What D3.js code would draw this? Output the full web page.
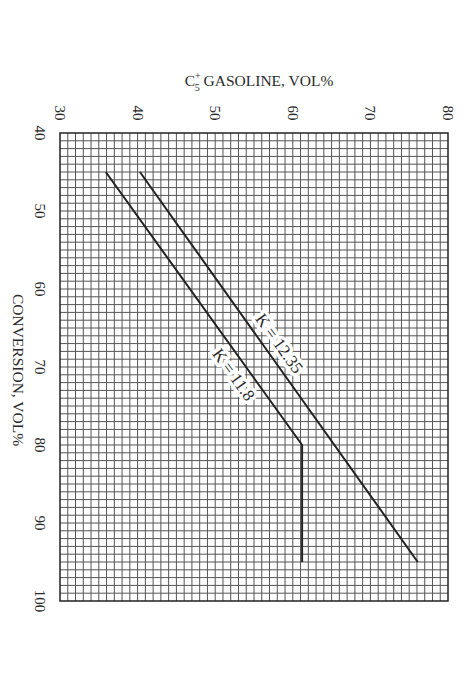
<!DOCTYPE html>
<html><head><meta charset="utf-8">
<script src="https://cdn.jsdelivr.net/npm/d3@7"></script>
<style>
html,body{margin:0;padding:0;background:#fff;}
text{font-family:"Liberation Serif","DejaVu Serif",serif;fill:#2a2a2a;}
</style></head>
<body>
<svg id="c" width="474" height="674"></svg>
<script>
// Data
const gasolineTicks = [30, 40, 50, 60, 70, 80];
const conversionTicks = [40, 50, 60, 70, 80, 90, 100];
const conversionK118 = [45, 80, 95];
const gasolineK118 = [35.9, 61.2, 61.2];
const conversionK1235 = [45, 95];
const gasolineK1235 = [40.3, 76.1];
const seriesLabels = ["K = 11.8", "K = 12.35"];

(function () {
const svg = d3.select("#c");
const pL = 60, pR = 448, pT = 133, pB = 601;
const x = d3.scaleLinear().domain([30, 80]).range([pL, pR]);
const y = d3.scaleLinear().domain([40, 100]).range([pT, pB]);

// grid
const g = svg.append("g");
g.selectAll("line.v").data(d3.range(31, 80)).join("line")
  .attr("x1", d => x(d)).attr("x2", d => x(d)).attr("y1", pT).attr("y2", pB)
  .attr("stroke", "#555").attr("stroke-width", 1);
g.selectAll("line.h").data(d3.range(41, 100)).join("line")
  .attr("y1", d => y(d)).attr("y2", d => y(d)).attr("x1", pL).attr("x2", pR)
  .attr("stroke", "#555").attr("stroke-width", 1);
svg.append("rect").attr("x", pL).attr("y", pT).attr("width", pR - pL).attr("height", pB - pT)
  .attr("fill", "none").attr("stroke", "#222").attr("stroke-width", 1.5);

// tick labels (rotated)
svg.selectAll("text.gt").data(gasolineTicks).join("text")
  .attr("transform", d => `translate(${x(d)},113) rotate(90)`)
  .attr("text-anchor", "middle").attr("dominant-baseline", "central")
  .attr("font-size", 15).text(d => d);
svg.selectAll("text.ct").data(conversionTicks).join("text")
  .attr("transform", d => `translate(40,${y(d)}) rotate(90)`)
  .attr("text-anchor", "middle").attr("dominant-baseline", "central")
  .attr("font-size", 15).text(d => d);

// titles
const t = svg.append("text").attr("x", 259).attr("y", 86).attr("text-anchor", "middle").attr("font-size", 15.5);
t.append("tspan").text("C");
t.append("tspan").attr("font-size", 10).attr("dy", -7).text("+");
t.append("tspan").attr("font-size", 10).attr("dx", -6).attr("dy", 12).text("5");
t.append("tspan").attr("dy", -5).text(" GASOLINE, VOL%");
svg.append("text").attr("transform", "translate(18,370) rotate(90)")
  .attr("text-anchor", "middle").attr("dominant-baseline", "central")
  .attr("font-size", 15.5).text("CONVERSION, VOL%");

// lines
const line = d3.line().x(d => x(d[1])).y(d => y(d[0]));
const s1 = conversionK118.map((c, i) => [c, gasolineK118[i]]);
const s2 = conversionK1235.map((c, i) => [c, gasolineK1235[i]]);
[s1, s2].forEach(s => svg.append("path").attr("d", line(s)).attr("fill", "none")
  .attr("stroke", "#222").attr("stroke-width", 2));

// labels along lines
function addLabel(seg, conv, dx, label) {
  const [a, b] = seg;
  const f = (conv - a[0]) / (b[0] - a[0]);
  const gas = a[1] + f * (b[1] - a[1]);
  const ang = Math.atan2(y(b[0]) - y(a[0]), x(b[1]) - x(a[1])) * 180 / Math.PI;
  svg.append("text")
    .attr("transform", `translate(${x(gas) + dx},${y(conv)}) rotate(${ang})`)
    .attr("text-anchor", "middle").attr("dominant-baseline", "central")
    .attr("font-size", 17)
    .attr("stroke", "#fff").attr("stroke-width", 7).attr("paint-order", "stroke")
    .attr("stroke-linejoin", "round")
    .text(label);
}
addLabel([s1[0], s1[1]], 71, -18, seriesLabels[0]);
addLabel(s2, 67, 17, seriesLabels[1]);
})();
</script>
</body></html>
